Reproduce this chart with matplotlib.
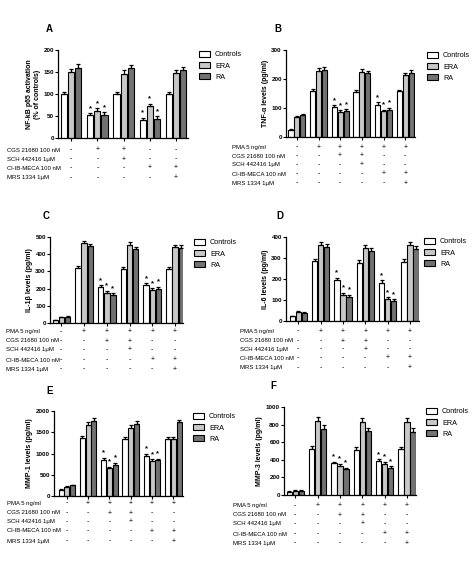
import matplotlib
matplotlib.use('Agg')
from matplotlib import pyplot as plt
from matplotlib.transforms import blended_transform_factory
import numpy as np

plt.rcParams['font.family'] = ['Liberation Sans', 'DejaVu Sans']

series = ['Controls', 'ERA', 'RA']
colors = ['white', '#c8c8c8', '#727272']

row_names = ['PMA 5 ng/ml', 'CGS 21680 100 nM', 'SCH 442416 1\u03bcM',
             'Cl-IB-MECA 100 nM', 'MRS 1334 1\u03bcM']

# treatment signs (A has no PMA row)
signs_a = [['-', '+', '+', '-', '-'],
           ['-', '-', '+', '-', '-'],
           ['-', '-', '-', '+', '+'],
           ['-', '-', '-', '-', '+']]
signs_bf = [['-', '+', '+', '+', '+', '+'],
            ['-', '-', '+', '+', '-', '-'],
            ['-', '-', '-', '+', '-', '-'],
            ['-', '-', '-', '-', '+', '+'],
            ['-', '-', '-', '-', '-', '+']]

# A  NF-kB
a_ctrl = [100, 52, 99, 42, 100]
a_era = [150, 62, 146, 72, 148]
a_ra = [160, 53, 158, 44, 155]
a_err = [[5, 4, 5, 4, 5], [7, 6, 8, 6, 6], [8, 5, 8, 5, 7]]
a_star = [False, True, False, True, False]

# B  TNF-a
b_ctrl = [25, 158, 103, 155, 112, 157]
b_era = [70, 228, 86, 225, 88, 213]
b_ra = [75, 232, 88, 220, 93, 222]
b_err = [[3, 6, 7, 6, 7, 6], [4, 10, 6, 10, 6, 9], [5, 10, 7, 9, 8, 10]]
b_star = [False, False, True, False, True, False]

# C  IL-1b
c_ctrl = [15, 322, 210, 312, 222, 315]
c_era = [32, 465, 175, 455, 193, 442]
c_ra = [33, 445, 162, 428, 200, 437]
c_err = [[4, 12, 10, 12, 10, 12], [5, 14, 12, 14, 10, 14], [5, 14, 10, 14, 10, 14]]
c_star = [False, False, True, False, True, False]

# D  IL-6
d_ctrl = [22, 285, 193, 278, 183, 282]
d_era = [42, 363, 125, 348, 105, 360]
d_ra = [38, 352, 115, 335, 95, 342]
d_err = [[3, 12, 12, 12, 10, 12], [4, 14, 10, 14, 8, 14], [4, 14, 10, 12, 8, 14]]
d_star = [False, False, True, False, True, False]

# E  MMP-1
e_ctrl = [150, 1360, 850, 1330, 950, 1340]
e_era = [220, 1660, 650, 1610, 820, 1350]
e_ra = [250, 1760, 740, 1690, 840, 1730]
e_err = [[15, 60, 50, 50, 50, 50], [20, 70, 40, 70, 40, 50], [20, 70, 40, 70, 40, 60]]
e_star = [False, False, True, False, True, False]

# F  MMP-3
f_ctrl = [35, 525, 360, 515, 385, 520]
f_era = [45, 845, 330, 830, 355, 835]
f_ra = [48, 755, 290, 725, 308, 715]
f_err = [[5, 30, 20, 30, 20, 25], [8, 45, 25, 45, 25, 40], [8, 45, 20, 40, 20, 45]]
f_star = [False, False, True, False, True, False]

W, H = 474, 583
fig = plt.figure(figsize=(W / 100, H / 100), dpi=100)


def px_rect(l, r, t, b):
    return [l / W, 1 - b / H, (r - l) / W, (b - t) / H]


def panel(letter, rect, xlim, vals, errs, stars, ylim, yticks, ylabel,
          signs, rows, row_ys, row_x, letter_xy, leg_xy):
    ax = fig.add_axes(px_rect(*rect))
    n = len(vals[0])
    x = np.arange(n)
    step = 0.27
    w = 0.235
    for i in range(3):
        xs = x + (i - 1) * step
        ax.bar(xs, vals[i], w, color=colors[i], edgecolor='black',
               linewidth=0.8, label=series[i], zorder=2)
        ax.errorbar(xs, vals[i], yerr=[np.zeros(n), errs[i]], fmt='none',
                    ecolor='black', elinewidth=0.9, capsize=1.5,
                    capthick=0.9, zorder=3)
        for j in range(n):
            if stars[j]:
                ax.text(xs[j], vals[i][j] + errs[i][j] + ylim * 0.015, '*',
                        ha='center', va='bottom', fontsize=5.5,
                        fontweight='bold')
    ax.set_xlim(*xlim)
    ax.set_ylim(0, ylim)
    ax.set_yticks(yticks)
    ax.set_xticks(x)
    ax.set_xticklabels([])
    ax.tick_params(axis='both', length=2, width=0.8, pad=1)
    for lab in ax.get_yticklabels():
        lab.set_fontsize(4.5)
        lab.set_fontweight('bold')
    ax.spines['top'].set_visible(False)
    ax.spines['right'].set_visible(False)
    ax.spines['left'].set_linewidth(0.9)
    ax.spines['bottom'].set_linewidth(0.9)
    ax.set_ylabel(ylabel, fontsize=5, fontweight='bold', labelpad=2)

    tr = blended_transform_factory(ax.transData, fig.transFigure)
    for r, name in enumerate(rows):
        yf = 1 - row_ys[r] / H
        fig.text(row_x / W, yf, name, fontsize=4.3, va='center', ha='left')
        for j in range(n):
            ax.text(j, yf, signs[r][j], transform=tr, fontsize=5,
                    ha='center', va='center', clip_on=False)

    fig.text(letter_xy[0] / W, 1 - letter_xy[1] / H, letter, fontsize=7,
             fontweight='bold', ha='center', va='center')
    ax.legend(loc='upper left', bbox_to_anchor=(leg_xy[0] / W, 1 - leg_xy[1] / H),
              bbox_transform=fig.transFigure, frameon=False, fontsize=5.2,
              handlelength=1.5, handleheight=0.9, handletextpad=0.7,
              labelspacing=0.5, borderpad=0, borderaxespad=0)
    return ax


panel('A', (58, 188, 50, 138), (-0.5, 4.45), [a_ctrl, a_era, a_ra], a_err,
      a_star, 200, [0, 50, 100, 150, 200],
      'NF-kB p65 activation\n(% of controls)', signs_a, row_names[1:],
      [150, 159, 168, 178], 7, (49, 29), (199, 51))
panel('B', (286, 415, 50, 137), (-0.5, 5.45), [b_ctrl, b_era, b_ra], b_err,
      b_star, 300, [0, 100, 200, 300], 'TNF-\u03b1 levels (pg/ml)',
      signs_bf, row_names, [147, 156, 165, 174, 183], 232, (278, 29),
      (427, 52))
panel('C', (50, 183, 237, 323), (-0.5, 5.35), [c_ctrl, c_era, c_ra], c_err,
      c_star, 500, [0, 100, 200, 300, 400, 500], 'IL-1\u03b2 levels (pg/ml)',
      signs_bf, row_names, [332, 341, 350, 360, 369], 6, (46, 216),
      (194, 239))
panel('D', (286, 419, 237, 321), (-0.55, 5.4), [d_ctrl, d_era, d_ra], d_err,
      d_star, 400, [0, 100, 200, 300, 400], 'IL-6 levels (pg/ml)',
      signs_bf, row_names, [331, 341, 349, 358, 368], 240, (280, 216),
      (424, 238))
panel('E', (54, 183, 411, 496), (-0.6, 5.45), [e_ctrl, e_era, e_ra], e_err,
      e_star, 2000, [0, 500, 1000, 1500, 2000], 'MMP-1 levels (pg/ml)',
      signs_bf, row_names, [503, 513, 522, 531, 541], 7, (50, 391),
      (193, 413))
panel('F', (284, 416, 407, 495), (-0.5, 5.4), [f_ctrl, f_era, f_ra], f_err,
      f_star, 1000, [0, 200, 400, 600, 800, 1000], 'MMP-3 levels (pg/ml)',
      signs_bf, row_names, [506, 515, 524, 534, 543], 233, (273, 386),
      (426, 408))

fig.savefig('out.png', dpi=100)
